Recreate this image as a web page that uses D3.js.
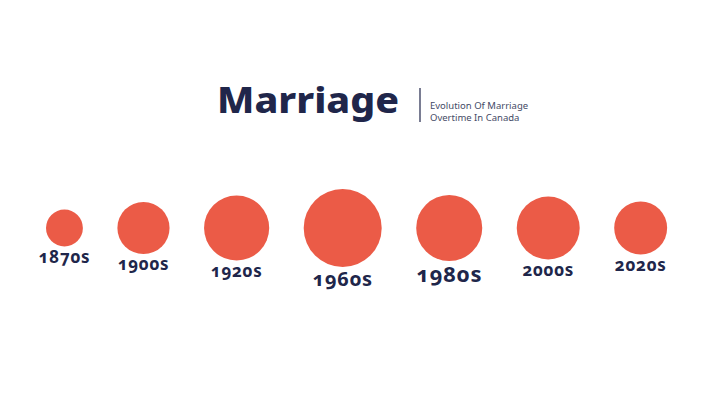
<!DOCTYPE html>
<html lang="en">
  <head>
    <meta charset="UTF-8" />
    <script src="https://d3js.org/d3.v7.min.js"></script>
    <title>Marriage</title>
    <style>
      body { margin: 0; background: #fff; }
    </style>
  </head>
  <body>
    <div id="chart-container"></div>

    <script>
      // decades and the value each bubble encodes (area ~ value)
      const decades = ["1870s", "1900s", "1920s", "1960s", "1980s", "2000s", "2020s"];
      const values = [3.4, 6.8, 10.6, 15.2, 10.9, 9.9, 7.0];

      const title = "Marriage";
      const subtitle = ["Evolution Of Marriage", "Overtime In Canada"];

      const width = 704;
      const height = 396;
      const navy = "#20264a";
      const red = "#eb5b47";
      const fontFamily = '"Noto Sans", "Open Sans", sans-serif';

      // bigger labels for a couple of decades
      const labelSize = { "1960s": 20, "1980s": 22 };

      const svg = d3
        .select("#chart-container")
        .append("svg")
        .attr("width", width)
        .attr("height", height);

      // title block
      svg
        .append("text")
        .attr("x", 217)
        .attr("y", 113)
        .attr("textLength", 182)
        .attr("lengthAdjust", "spacingAndGlyphs")
        .style("font-family", fontFamily)
        .style("font-size", "35px")
        .style("font-weight", "800")
        .style("fill", navy)
        .text(title);

      svg
        .append("line")
        .attr("x1", 420)
        .attr("x2", 420)
        .attr("y1", 88)
        .attr("y2", 122)
        .attr("stroke", navy)
        .attr("stroke-width", 1.2);

      svg
        .append("g")
        .selectAll("text")
        .data(subtitle)
        .join("text")
        .attr("x", 430)
        .attr("y", (d, i) => 109 + i * 12)
        .style("font-family", fontFamily)
        .style("font-size", "9.5px")
        .style("font-weight", "400")
        .style("fill", "#444a66")
        .text((d) => d);

      // bubble sizes
      const r = d3
        .scaleSqrt()
        .domain([0, d3.max(values)])
        .range([0, 39]);

      // pack bubbles left to right with a fixed gap
      const gap = 34.5;
      const left = 46;
      const diam = values.map((v) => 2 * r(v) + gap);
      const starts = [0, ...d3.cumsum(diam)];
      const cx = values.map((v, i) => left + starts[i] + r(v));
      const cy = 228;

      const nodes = decades.map((d, i) => ({
        decade: d,
        value: values[i],
        x: cx[i],
        r: r(values[i]),
        fs: labelSize[d] || 17,
      }));

      const g = svg.append("g");

      g.selectAll("circle")
        .data(nodes)
        .join("circle")
        .attr("cx", (d) => d.x)
        .attr("cy", cy)
        .attr("r", (d) => d.r)
        .attr("fill", red);

      g.selectAll("text")
        .data(nodes)
        .join("text")
        .attr("x", (d) => d.x)
        .attr("y", (d) => cy + d.r + d.fs * 0.95)
        .attr("text-anchor", "middle")
        .style("font-family", fontFamily)
        .style("font-size", (d) => d.fs + "px")
        .style("font-weight", "700")
        .style("letter-spacing", "0.7px")
        .style("font-variant-numeric", "oldstyle-nums")
        .style("fill", navy)
        .text((d) => d.decade);
    </script>
  </body>
</html>
